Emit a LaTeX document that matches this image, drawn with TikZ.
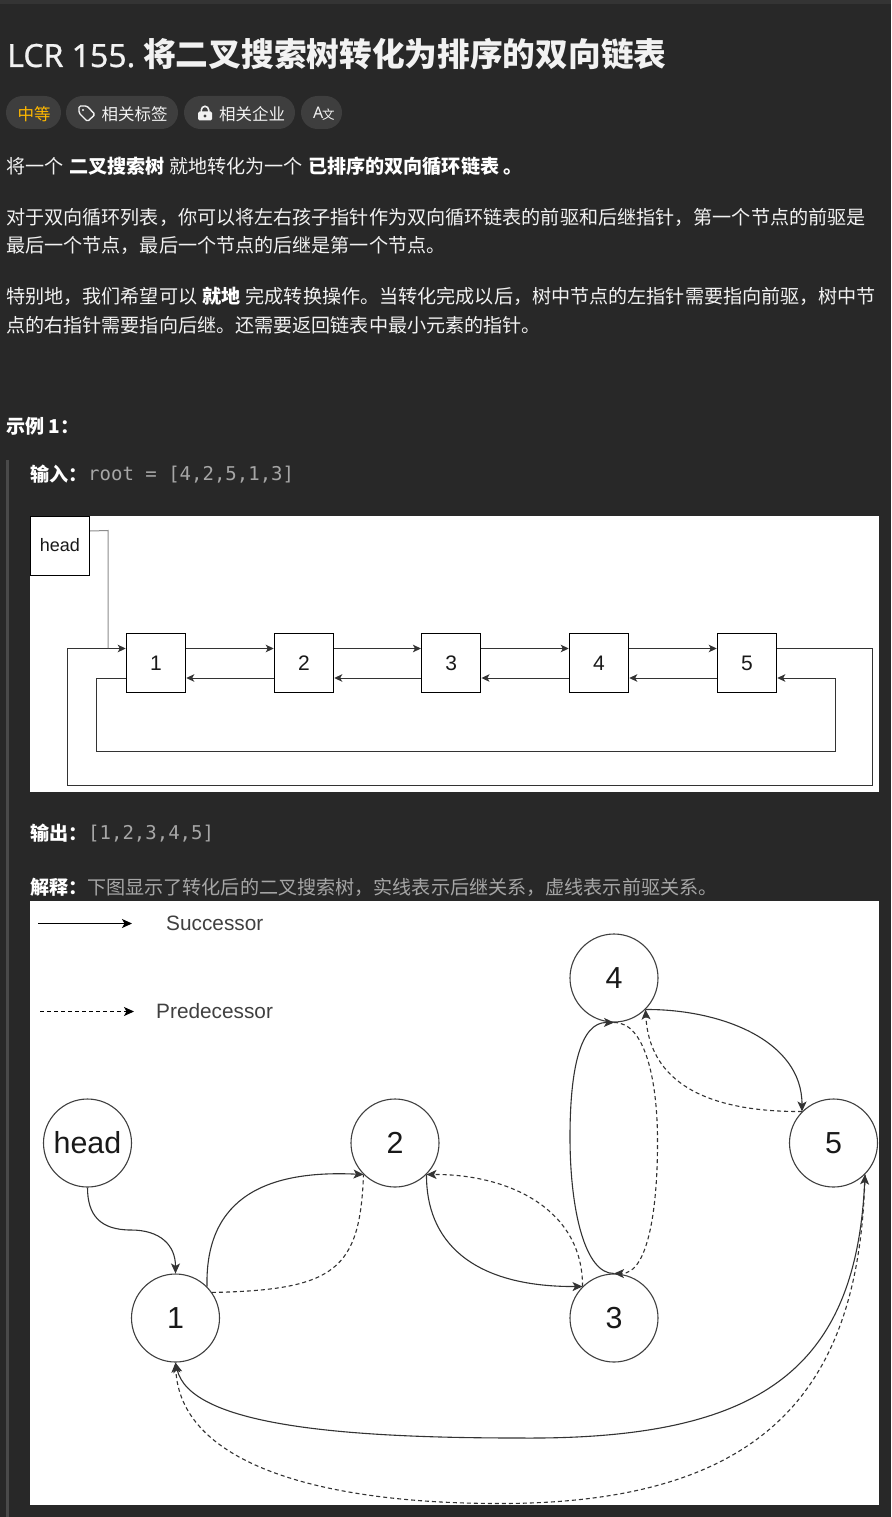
\documentclass[tikz,border=0pt]{standalone}
\usepackage{fontspec}
\setmainfont{Noto Sans CJK SC}
\newfontfamily\diagfont{Liberation Sans}
\newfontfamily\latinfont[FakeBold=0.8]{Noto Sans}
\newfontfamily\plainlatin{Noto Sans}
\newfontfamily\codefont{DejaVu Sans Mono}
\usetikzlibrary{arrows.meta}
\definecolor{pagebg}{HTML}{282828}
\definecolor{chipbg}{HTML}{3E3E3E}
\definecolor{quotebar}{HTML}{4A4A4A}
\definecolor{bodytext}{HTML}{F2F2F2}
\definecolor{dimtext}{HTML}{A6A6A6}
\definecolor{levelc}{HTML}{FFB800}
\tikzset{
  px/.style={x=1pt,y=-1pt},
  para/.style={anchor=base west,inner sep=0pt,text=bodytext,font=\fontsize{19.1}{19}\selectfont},
  strong/.style={para,font=\fontsize{19.1}{19}\selectfont\bfseries,text=white},
  dim/.style={para,text=dimtext},
  code/.style={para,text=dimtext,font=\fontsize{19}{19}\selectfont\codefont},
  chip/.style={fill=chipbg,rounded corners=16.5pt},
  listbox/.style={draw=black,fill=white,line width=1pt,minimum width=59.5pt,minimum height=59pt,inner sep=0pt,font=\fontsize{21}{21}\selectfont\diagfont,text=black!90},
  circ/.style={circle,draw=black!75,fill=white,line width=1.1pt,minimum size=88pt,inner sep=0pt,font=\fontsize{30.4}{30}\selectfont\diagfont,text=black!90},
  arr/.style={-{Stealth[length=10pt,width=9pt,inset=2.5pt]},draw=black!80,line width=1.1pt},
  darrplain/.style={draw=black!80,line width=1.1pt,dash pattern=on 4pt off 3pt},
  darr/.style={arr,dash pattern=on 4pt off 3pt},
  link/.style={draw=black!45,line width=1pt},
  linkarr/.style={-{Stealth[length=8pt,width=7.5pt,inset=2pt]},draw=black!80,line width=1pt},
  legendtxt/.style={anchor=base west,inner sep=0pt,text=black!75,font=\fontsize{20.8}{21}\selectfont\diagfont},
}
\begin{document}
\begin{tikzpicture}[px]
\useasboundingbox (0,0) rectangle (891,1517);
\fill[pagebg] (0,0) rectangle (891,1517);
\fill[white,opacity=.06] (0,0) rectangle (891,4);
% title
\node[anchor=base west,inner sep=0pt,text=bodytext,font=\fontsize{32}{32}\selectfont\latinfont] (t1) at (7,67) {LCR 155.};
\node[anchor=base west,inner sep=0pt,text=bodytext,font=\fontsize{32.7}{32}\selectfont\bfseries] (t2) at (143,67) {将二叉搜索树转化为排序的双向链表};
% chips
\fill[chip] (6,96) rectangle (61,129);
\fill[chip] (66,96) rectangle (178,129);
\fill[chip] (184,96) rectangle (295,129);
\fill[chip] (301,96) rectangle (342,129);
\node[para,text=levelc,font=\fontsize{16.5}{17}\selectfont] (c1) at (17.5,121) {中等};
\node[para,font=\fontsize{16.5}{17}\selectfont] (c2) at (101.5,121) {相关标签};
\node[para,font=\fontsize{16.5}{17}\selectfont] (c3) at (219,121) {相关企业};
\draw[bodytext,line width=1.4pt,line join=round,rounded corners=1.5pt] (79,106) -- (87,106) -- (95,114.5) -- (87.5,121.5) -- (79,113) -- cycle;
\fill[bodytext] (83,110) circle (1.1pt);
\fill[bodytext,rounded corners=1.5pt] (198,111.5) rectangle (212,120.5);
\draw[bodytext,line width=1.6pt] (201.3,112) -- (201.3,110) arc (180:360:3.7) -- (208.7,112);
\fill[chipbg] (205,116) circle (1.6pt);
\node[para,font=\fontsize{16}{16}\selectfont\plainlatin] (c4a) at (313,119) {A};
\node[para,font=\fontsize{12.5}{13}\selectfont] (c4b) at (322,120) {文};
% paragraph 1
\node[para] (p1a) at (6,174) {将一个};
\node[strong] (p1b) at (69,174) {二叉搜索树};
\node[para] (p1c) at (169,174) {就地转化为一个};
\node[strong] (p1d) at (308,174) {已排序的双向循环链表};
\node[strong] (p1e) at (503,174) {。};
% paragraph 2
\node[para] (p2a) at (6,224) {对于双向循环列表，你可以将左右孩子指针作为双向循环链表的前驱和后继指针，第一个节点的前驱是};
\node[para] (p2b) at (6,252.5) {最后一个节点，最后一个节点的后继是第一个节点。};
% paragraph 3
\node[para] (p3a) at (6,303) {特别地，我们希望可以};
\node[strong] (p3b) at (202,303) {就地};
\node[para] (p3c) at (245.5,303) {完成转换操作。当转化完成以后，树中节点的左指针需要指向前驱，树中节};
\node[para] (p3d) at (6,332) {点的右指针需要指向后继。还需要返回链表中最小元素的指针。};
% example
\node[strong] (e1) at (6,433) {示例 1：};
\fill[quotebar] (6,460) rectangle (9,1517);
\node[strong] (i1) at (30,481) {输入：};
\node[code] (i2) at (88,480) {root = [4,2,5,1,3]};
\node[strong] (o1) at (30,840) {输出：};
\node[code] (o2) at (88,839) {[1,2,3,4,5]};
\node[strong] (x1) at (30,894) {解释：};
\node[dim] (x2) at (87,894) {下图显示了转化后的二叉搜索树，实线表示后继关系，虚线表示前驱关系。};
% ===== first figure =====
\fill[white] (30,516) rectangle (879,792);
\node[listbox] (h) at (59.8,545.5) {\fontsize{18}{18}\selectfont head};
\node[listbox] (a1) at (156,663) {\raisebox{-1.5pt}{1}};
\node[listbox] (a2) at (304,663) {\raisebox{-1.5pt}{2}};
\node[listbox] (a3) at (451.2,663) {\raisebox{-1.5pt}{3}};
\node[listbox] (a4) at (599,663) {\raisebox{-1.5pt}{4}};
\node[listbox] (a5) at (747,663) {\raisebox{-1.5pt}{5}};
\foreach \p/\q in {a1/a2,a2/a3,a3/a4,a4/a5}{
  \draw[linkarr] ([yshift=14.5pt]\p.east) -- ([yshift=14.5pt]\q.west);
  \draw[linkarr] ([yshift=-15pt]\q.west) -- ([yshift=-15pt]\p.east);
}
\draw[linkarr] ([yshift=14.5pt]a5.east) -- (872.7,648.5) -- (872.7,785.5) -- (67,785.5) -- (67,648.5) -- ([yshift=14.5pt]a1.west);
\draw[linkarr] ([yshift=-15pt]a1.west) -- (96.7,678) -- (96.7,751) -- (835.7,751) -- (835.7,678) -- ([yshift=-15pt]a5.east);
\draw[link] ([yshift=14.5pt]h.east) -- (108,530.5) -- (108,648);
% ===== second figure =====
\fill[white] (30,901) rectangle (879,1505);
\coordinate (l1a) at (38,923.5);
\coordinate (l1b) at (132,923.5);
\coordinate (l2a) at (40,1011.5);
\coordinate (l2b) at (134,1011.5);
\draw[arr,draw=black] (l1a) -- (l1b);
\draw[darr,draw=black] (l2a) -- (l2b);
\node[legendtxt] (ls) at (166,930.5) {Successor};
\node[legendtxt] (lp) at (156,1018) {Predecessor};
\node[circ] (nh) at (87.5,1143) {head};
\node[circ] (n1) at (175.5,1318) {1};
\node[circ] (n2) at (395,1143) {2};
\node[circ] (n3) at (614,1318) {3};
\node[circ] (n4) at (614,978) {4};
\node[circ] (n5) at (833.5,1143) {5};
\coordinate (hm) at (131,1230);
\draw[arr] (nh.south) .. controls (87.5,1215) and (100,1230) .. (hm) .. controls (160,1230) and (175.5,1245) .. (n1.north);
\draw[arr] (n1.north east) .. controls (205,1195) and (270,1170) .. (n2.south west);
\draw[darrplain] (n1.35) .. controls (335,1290) and (360,1270) .. (n2.south west);
\draw[arr] (n2.south east) .. controls (426,1240) and (470,1287) .. (n3.north west);
\draw[darr] (n3.north west) .. controls (583,1210) and (510,1174) .. (n2.south east);
\coordinate (ml) at (570,1137);
\coordinate (mr) at (657.5,1137);
\draw[arr] (n3.north) .. controls (585,1274) and (570,1210) .. (ml) .. controls (570,1070) and (580,1022) .. (n4.south);
\draw[darr] (n4.south) .. controls (645,1022) and (657,1080) .. (mr) .. controls (658,1200) and (650,1274) .. (n3.north);
\draw[arr] (n4.south east) .. controls (720,1009) and (802,1040) .. (n5.north west);
\draw[darr] (n5.north west) .. controls (720,1112) and (650,1090) .. (n4.south east);
\coordinate (bs) at (520,1438);
\coordinate (bd) at (500,1503.5);
\draw[arr,{Stealth[length=10pt,width=9pt,inset=2.5pt]}-{Stealth[length=10pt,width=9pt,inset=2.5pt]}] (n1.south) .. controls (190,1425) and (340,1438) .. (bs) .. controls (760,1440) and (856,1370) .. (n5.south east);
\draw[darr] (n5.south east) .. controls (860,1385) and (770,1503.5) .. (bd) .. controls (310,1503.5) and (180,1460) .. (n1.south);
\end{tikzpicture}
\end{document}
